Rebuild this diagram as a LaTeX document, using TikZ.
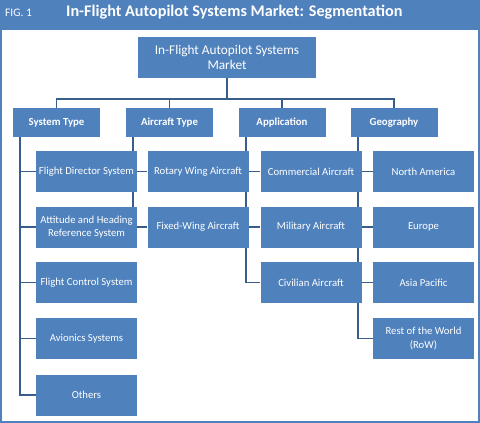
\documentclass[tikz,border=0pt]{standalone}
\usepackage{fontspec}
\setmainfont{Carlito}
\usetikzlibrary{backgrounds}
\definecolor{boxblue}{RGB}{79,129,189}
\definecolor{lineblue}{RGB}{56,93,138}
\begin{document}
\begin{tikzpicture}[x=1pt,y=-1pt,
  every node/.style={inner sep=1pt},
  topbox/.style={fill=boxblue,draw=none,minimum width=178pt,minimum height=41pt,text=white,align=center,font=\fontsize{13.3}{15.5}\selectfont},
  catbox/.style={fill=boxblue,draw=none,minimum width=87pt,minimum height=29pt,text=white,font=\bfseries\fontsize{10.8}{12}\selectfont},
  leafbox/.style={fill=boxblue,draw=none,minimum width=101pt,minimum height=41pt,text=white,align=center,font=\fontsize{10.7}{13.5}\selectfont},
  conn/.style={draw=lineblue,line width=1.8pt}]
\useasboundingbox (0,0) rectangle (480,423);
% header
\fill[boxblue] (0,0) rectangle (480,30);
\draw[boxblue,line width=2pt] (1,1) rectangle (479,422);
\node[anchor=west,text=white,font=\fontsize{11.5}{13}\selectfont] (fig) at (4,13) {FIG. 1};
\node[anchor=west,text=white,font=\bfseries\fontsize{16.2}{18}\selectfont] (title) at (65,12) {In-Flight Autopilot Systems Market: Segmentation};
% top
\node[topbox] (top) at (227,57.5) {In-Flight Autopilot Systems\\Market};
% categories
\node[catbox] (st) at (56.5,122.5) {System Type};
\node[catbox] (at) at (169.5,122.5) {Aircraft Type};
\node[catbox] (ap) at (282,122.5) {Application};
\node[catbox] (ge) at (394,122.5) {Geography};
% system
\node[leafbox] (s1) at (86.5,171.5) {Flight Director System};
\node[leafbox] (s2) at (86.5,227) {Attitude and Heading\\Reference System};
\node[leafbox] (s3) at (86.5,282.5) {Flight Control System};
\node[leafbox] (s4) at (86.5,338.5) {Avionics Systems};
\node[leafbox] (s5) at (86.5,395) {Others};
% aircraft
\node[leafbox] (a1) at (198,171.5) {Rotary Wing Aircraft};
\node[leafbox] (a2) at (198,227) {Fixed-Wing Aircraft};
% application
\node[leafbox] (p1) at (311,171.5) {Commercial Aircraft};
\node[leafbox] (p2) at (311,227) {Military Aircraft};
\node[leafbox] (p3) at (311,282.5) {Civilian Aircraft};
% geography
\node[leafbox] (g1) at (423.5,171.5) {North America};
\node[leafbox] (g2) at (423.5,227) {Europe};
\node[leafbox] (g3) at (423.5,282.5) {Asia Pacific};
\node[leafbox] (g4) at (423.5,338.5) {Rest of the World\\(RoW)};
\begin{scope}[on background layer]
\coordinate (bus) at (227,99);
\draw[conn] (top.south) -- (bus);
\draw[conn] (st.north) -- (st.north |- bus) -- (ge.north |- bus) -- (ge.north);
\draw[conn] (at.north) -- (at.north |- bus);
\draw[conn] (ap.north) -- (ap.north |- bus);
\coordinate (sv) at ([xshift=7pt]st.south west);
\coordinate (av) at ([xshift=7pt]at.south west);
\coordinate (pv) at ([xshift=8pt]ap.south west);
\coordinate (gv) at ([xshift=8pt]ge.south west);
\draw[conn] (sv) |- (s5.west);
\foreach \n in {s1,s2,s3,s4} \draw[conn] (sv |- \n.west) -- (\n.west);
\draw[conn] (av) |- (a2.west);
\draw[conn] (av |- a1.west) -- (a1.west);
\draw[conn] (pv) |- (p3.west);
\foreach \n in {p1,p2} \draw[conn] (pv |- \n.west) -- (\n.west);
\draw[conn] (gv) |- (g4.west);
\foreach \n in {g1,g2,g3} \draw[conn] (gv |- \n.west) -- (\n.west);
\end{scope}
\end{tikzpicture}
\end{document}
